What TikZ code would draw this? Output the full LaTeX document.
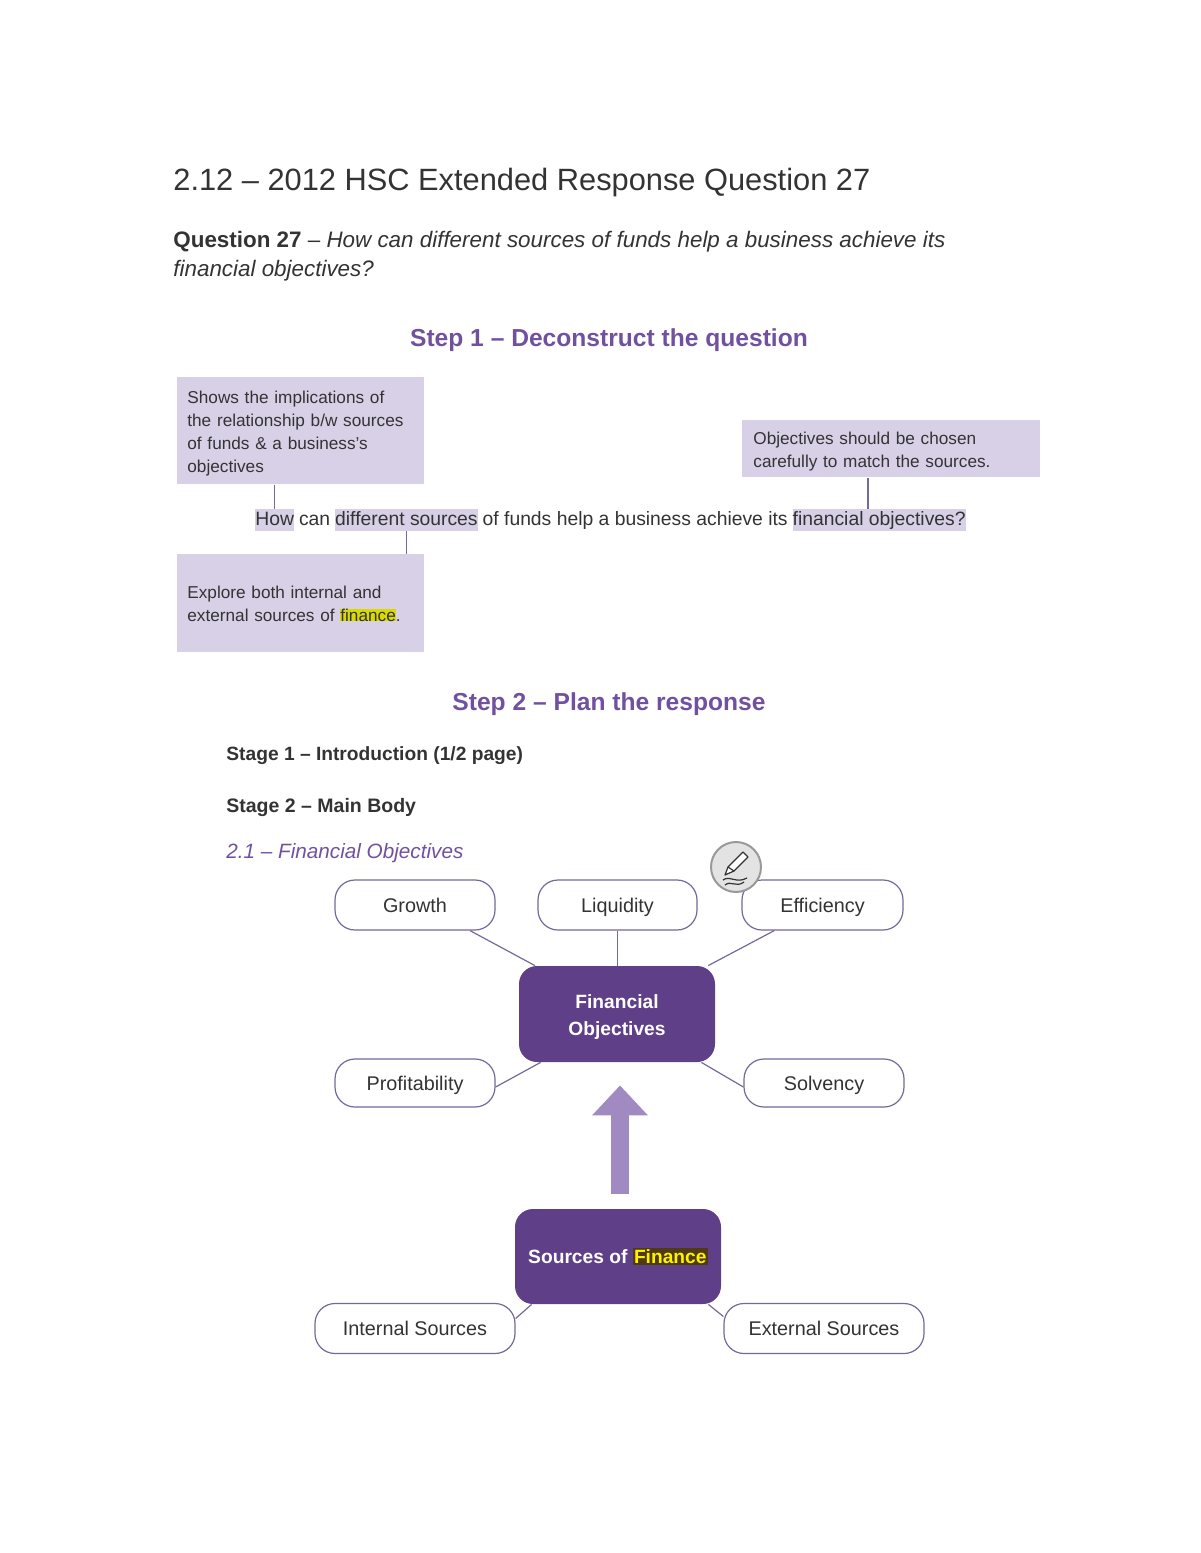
\documentclass[tikz,border=0pt]{standalone}
\usepackage{fontspec}
\setmainfont{Liberation Sans}
\usetikzlibrary{arrows.meta,positioning}
\definecolor{Ink}{HTML}{333333}
\definecolor{Plum}{HTML}{71519F}
\definecolor{Aubergine}{HTML}{5F3F87}
\definecolor{Lilac}{HTML}{D8D0E7}
\definecolor{Wisteria}{HTML}{A189C2}
\definecolor{Outline}{HTML}{75689A}
\definecolor{Marker}{HTML}{DADA00}
\definecolor{DarkMark}{HTML}{4F3A14}
\definecolor{PenGrey}{HTML}{E3E3E3}

\begin{document}
\begin{tikzpicture}[x=0.5pt, y=-0.5pt, node distance=2.1pt, >=Latex,
    every node/.style={text=Ink},
    plainline/.style={anchor=base west, inner sep=0pt},
    steptitle/.style={anchor=base, inner sep=0pt, text=Plum, font=\fontsize{12.3}{15}\selectfont\bfseries},
    notebox/.style={fill=Lilac, anchor=north west, align=left, inner xsep=5pt, inner ysep=0pt, font=\fontsize{8.6}{11.5}\selectfont},
    qword/.style={inner sep=0pt, text height=7.8pt, text depth=3pt, font=\fontsize{9.66}{12}\selectfont},
    qmark/.style={qword, fill=Lilac},
    pill/.style={draw=Outline, fill=white, line width=0.6pt, rounded corners=10pt, text height=9.2pt, text depth=2pt, font=\fontsize{9.9}{12}\selectfont},
    hub/.style={fill=Aubergine, rounded corners=9pt, align=center, text=white, font=\fontsize{9.6}{13.2}\selectfont\bfseries},
    spoke/.style={draw=Outline, line width=0.6pt},
    notch/.style={draw=Outline, line width=0.7pt}]
  \useasboundingbox (0,0) rectangle (1200,1553);

  \node[plainline, font=\fontsize{15.4}{20}\selectfont] (heading) at (173,190) {2.12 – 2012 HSC Extended Response Question 27};
  \node[plainline, align=left, font=\fontsize{11.2}{14.5}\selectfont] (question) at (173,276) {\textbf{Question 27} – \textit{How can different sources of funds help a business achieve its}\\\textit{financial objectives?}};

  \node[steptitle] (stepone) at (609,346) {Step 1 – Deconstruct the question};

  % note boxes
  \node[notebox, text width=113.5pt, text height=8.4pt, minimum height=53.5pt] (shows) at (177,377) {Shows the implications of\\the relationship b/w sources\\of funds \& a business's\\objectives};
  \node[notebox, inner xsep=5.5pt, text width=138pt, text height=8.4pt, minimum height=28.5pt] (chosen) at (742,420) {Objectives should be chosen\\carefully to match the sources.};
  \node[notebox, text width=113.5pt, minimum height=49pt] (explore) at (177,554) {Explore both internal and\\external sources of {\setlength{\fboxsep}{0pt}\colorbox{Marker}{finance}}.};

  % the question, word by word
  \node[qmark, anchor=base west] (how) at (255,525) {How};
  \node[qword, base right=of how] (can) {can};
  \node[qmark, base right=of can] (different) {different sources};
  \node[qword, base right=of different] (middle) {of funds help a business achieve its};
  \node[qmark, base right=of middle] (target) {financial objectives?};

  \draw[notch] (shows.south -| how.north) -- (how.north);
  \draw[notch] (different.south) -- (explore.north -| different.south);
  \draw[notch] (chosen.south -| 868,0) -- (target.north -| 868,0);

  \node[steptitle] (steptwo) at (609,710) {Step 2 – Plan the response};
  \node[plainline, font=\fontsize{9.6}{12}\selectfont\bfseries] (stageone) at (226,760) {Stage 1 – Introduction (1/2 page)};
  \node[plainline, font=\fontsize{9.75}{12}\selectfont\bfseries] (stagetwo) at (226,812) {Stage 2 – Main Body};
  \node[plainline, text=Plum, font=\fontsize{10.35}{12}\selectfont\itshape] (objtitle) at (226,858) {2.1 – Financial Objectives};

  \node[hub, text height=23pt, text depth=2pt, minimum width=98pt, minimum height=48pt] (fin) at (617,1014) {Financial\\Objectives};
  \node[hub, minimum width=103pt, minimum height=47.5pt] (src) at (618,1256.5) {Sources of {\setlength{\fboxsep}{0.6pt}\colorbox{DarkMark}{\textcolor{yellow}{Finance}}}};

  \node[pill, minimum width=80pt, minimum height=25pt] (growth) at (415,905) {Growth};
  \node[pill, minimum width=79.5pt, minimum height=25pt] (liq) at (617.5,905) {Liquidity};
  \node[pill, minimum width=80.5pt, minimum height=25pt] (eff) at (822.5,905) {Efficiency};
  \node[pill, minimum width=80pt, minimum height=24pt] (prof) at (415,1083) {Profitability};
  \node[pill, minimum width=80pt, minimum height=24pt] (solv) at (824,1083) {Solvency};
  \node[pill, minimum width=100pt, minimum height=25pt] (int) at (415,1328.5) {Internal Sources};
  \node[pill, minimum width=100pt, minimum height=25pt] (ext) at (824,1328.5) {External Sources};

  \draw[spoke] ([xshift=27.5pt]growth.south) -- ([xshift=-41pt]fin.north);
  \draw[spoke] (liq.south) -- (liq.south |- fin.north);
  \draw[spoke] (eff) -- (fin);
  \draw[spoke] ([yshift=-2pt]prof.east) -- ([xshift=11pt]fin.south west);
  \draw[spoke] ([yshift=-2pt]solv.west) -- ([xshift=-7pt]fin.south east);
  \draw[spoke] ([yshift=5pt]int.east) -- ([xshift=8.5pt]src.south west);
  \draw[spoke] ([yshift=6pt]ext.west) -- ([xshift=-6.5pt]src.south east);

  \draw[-{Triangle[width=27pt,length=15pt]}, draw=Wisteria, fill=Wisteria, line width=9pt, shorten <=7.5pt, shorten >=11.5pt] ([xshift=1pt]src.north) -- ([xshift=1pt]src.north |- fin.south);

  % pen badge
  \node[circle, draw=gray!80, fill=PenGrey, line width=1pt, minimum size=25pt, inner sep=0pt] (badge) at (736,867) {};
  \draw[Ink, line width=0.6pt, fill=white, line join=round] (725,875) -- (728,867) -- (743,852) -- (748,857) -- (734,871) -- cycle;
  \draw[Ink, line width=0.6pt] (728,867) -- (734,871);
  \draw[Ink, line width=0.6pt] (723,880) .. controls (730,875) and (736,884) .. (747,878);
  \draw[Ink, line width=0.6pt] (725,885) .. controls (731,880) and (736,888) .. (744,882);
\end{tikzpicture}
\end{document}
